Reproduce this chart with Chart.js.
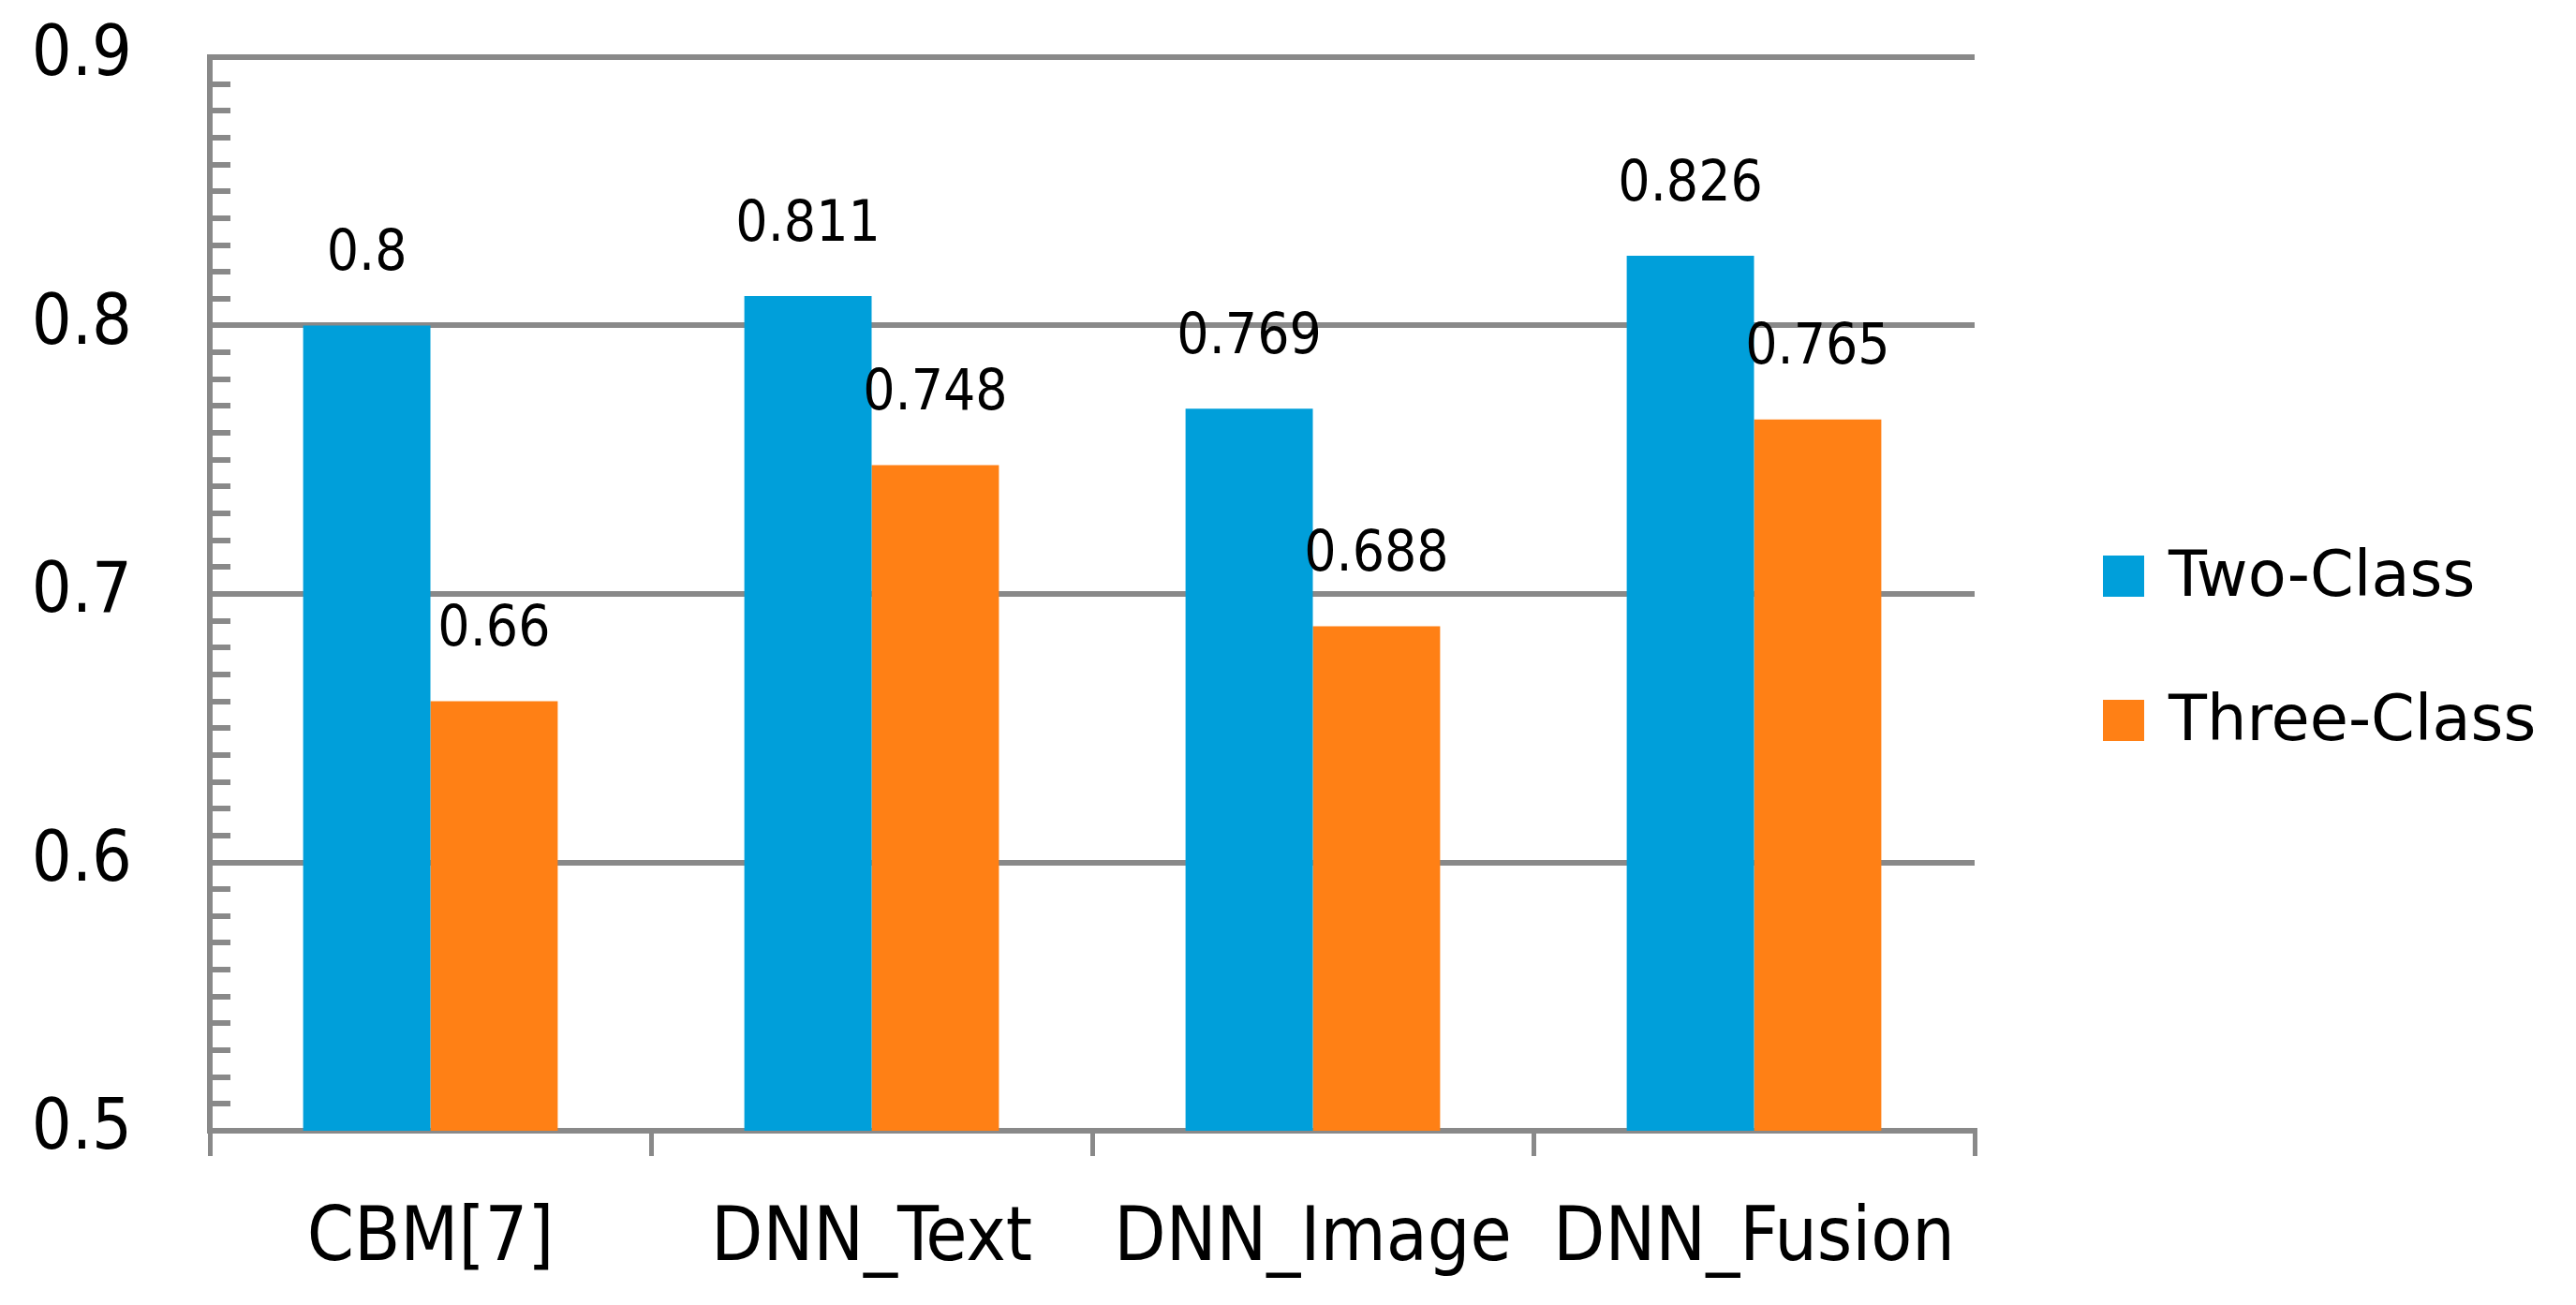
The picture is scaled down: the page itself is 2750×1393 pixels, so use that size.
<!DOCTYPE html>
<html>
<head>
<meta charset="utf-8">
<script src="https://cdn.jsdelivr.net/npm/chart.js@4.4.1/dist/chart.umd.min.js"></script>
<style>
  html, body { margin: 0; padding: 0; background: #ffffff; }
  #wrap { width: 2750px; height: 1393px; }
</style>
</head>
<body>
<div id="wrap"><canvas id="c" width="2750" height="1393"></canvas></div>
<script>
const categories = ["CBM[7]", "DNN_Text", "DNN_Image", "DNN_Fusion"];
const seriesNames = ["Two-Class", "Three-Class"];
const twoClass = [0.8, 0.811, 0.769, 0.826];
const threeClass = [0.66, 0.748, 0.688, 0.765];
const yTicks = [0.5, 0.6, 0.7, 0.8, 0.9];

const GRAY = '#898989';
const BLUE = '#009FDA';
const ORANGE = '#FF8015';
const COND = "'DejaVu Sans Condensed', 'Liberation Sans Narrow', 'DejaVu Sans', sans-serif";
const WIDE = "'DejaVu Sans', Verdana, sans-serif";

const minorTicks = {
  id: 'minorTicks',
  beforeDatasetsDraw(chart) {
    const y = chart.scales.y;
    const ctx = chart.ctx;
    const left = chart.chartArea.left;
    ctx.save();
    ctx.strokeStyle = GRAY;
    ctx.lineWidth = 6;
    for (let i = 0; i < yTicks.length - 1; i++) {
      for (let k = 1; k < 10; k++) {
        const v = yTicks[i] + (yTicks[i + 1] - yTicks[i]) * k / 10;
        const py = Math.round(y.getPixelForValue(v));
        ctx.beginPath();
        ctx.moveTo(left, py);
        ctx.lineTo(left + 22, py);
        ctx.stroke();
      }
    }
    ctx.restore();
  }
};

const valueLabels = {
  id: 'valueLabels',
  afterDatasetsDraw(chart) {
    const ctx = chart.ctx;
    ctx.save();
    ctx.fillStyle = '#000000';
    ctx.font = '60px ' + COND;
    ctx.textAlign = 'center';
    ctx.textBaseline = 'middle';
    chart.data.datasets.forEach((ds, di) => {
      const meta = chart.getDatasetMeta(di);
      meta.data.forEach((el, i) => {
        ctx.fillText(String(ds.data[i]), el.x, el.y - 75);
      });
    });
    ctx.restore();
  }
};

// legend drawn to the right of the plot area, from the datasets
const sideLegend = {
  id: 'sideLegend',
  afterDraw(chart) {
    const ctx = chart.ctx;
    const box = 44, gap = 26, rowStep = 154;
    const x0 = chart.chartArea.right + 137;
    const n = chart.data.datasets.length;
    const midY = chart.height / 2 - 5;
    ctx.save();
    ctx.font = '67px ' + WIDE;
    ctx.textAlign = 'left';
    ctx.textBaseline = 'middle';
    chart.data.datasets.forEach((ds, i) => {
      const yc = midY + (i - (n - 1) / 2) * rowStep;
      ctx.fillStyle = ds.backgroundColor;
      ctx.fillRect(x0, Math.round(yc - box / 2), box, box);
      ctx.fillStyle = '#000000';
      ctx.fillText(ds.label, x0 + box + gap, yc + 4);
    });
    ctx.restore();
  }
};

new Chart(document.getElementById('c'), {
  type: 'bar',
  data: {
    labels: categories,
    datasets: [
      { label: seriesNames[0], data: twoClass, backgroundColor: BLUE, borderWidth: 0 },
      { label: seriesNames[1], data: threeClass, backgroundColor: ORANGE, borderWidth: 0 }
    ]
  },
  options: {
    responsive: false,
    devicePixelRatio: 1,
    animation: false,
    layout: { padding: { top: 61, left: 0, right: 642, bottom: 0 } },
    datasets: { bar: { categoryPercentage: 0.577, barPercentage: 1.0 } },
    plugins: {
      tooltip: { enabled: false },
      legend: { display: false }
    },
    scales: {
      x: {
        grid: { display: true, drawOnChartArea: false, drawTicks: true, tickLength: 27, color: GRAY, lineWidth: 5, offset: true },
        border: { display: true, color: GRAY, width: 6 },
        ticks: { color: '#000000', padding: 42, font: { family: COND, size: 80 } },
        afterFit(scale) { scale.height = 186; }
      },
      y: {
        min: yTicks[0],
        max: yTicks[yTicks.length - 1],
        afterBuildTicks(scale) { scale.ticks = yTicks.map(v => ({ value: v })); },
        grid: { display: true, drawTicks: true, tickLength: 83, tickColor: 'rgba(0,0,0,0)', color: GRAY, lineWidth: 6 },
        border: { display: true, color: GRAY, width: 6 },
        ticks: { color: '#000000', padding: 0, font: { family: COND, size: 75 },
                 callback: (v) => Number(v).toFixed(1) },
        afterFit(scale) { scale.width = 224; }
      }
    }
  },
  plugins: [minorTicks, valueLabels, sideLegend]
});
</script>
</body>
</html>
